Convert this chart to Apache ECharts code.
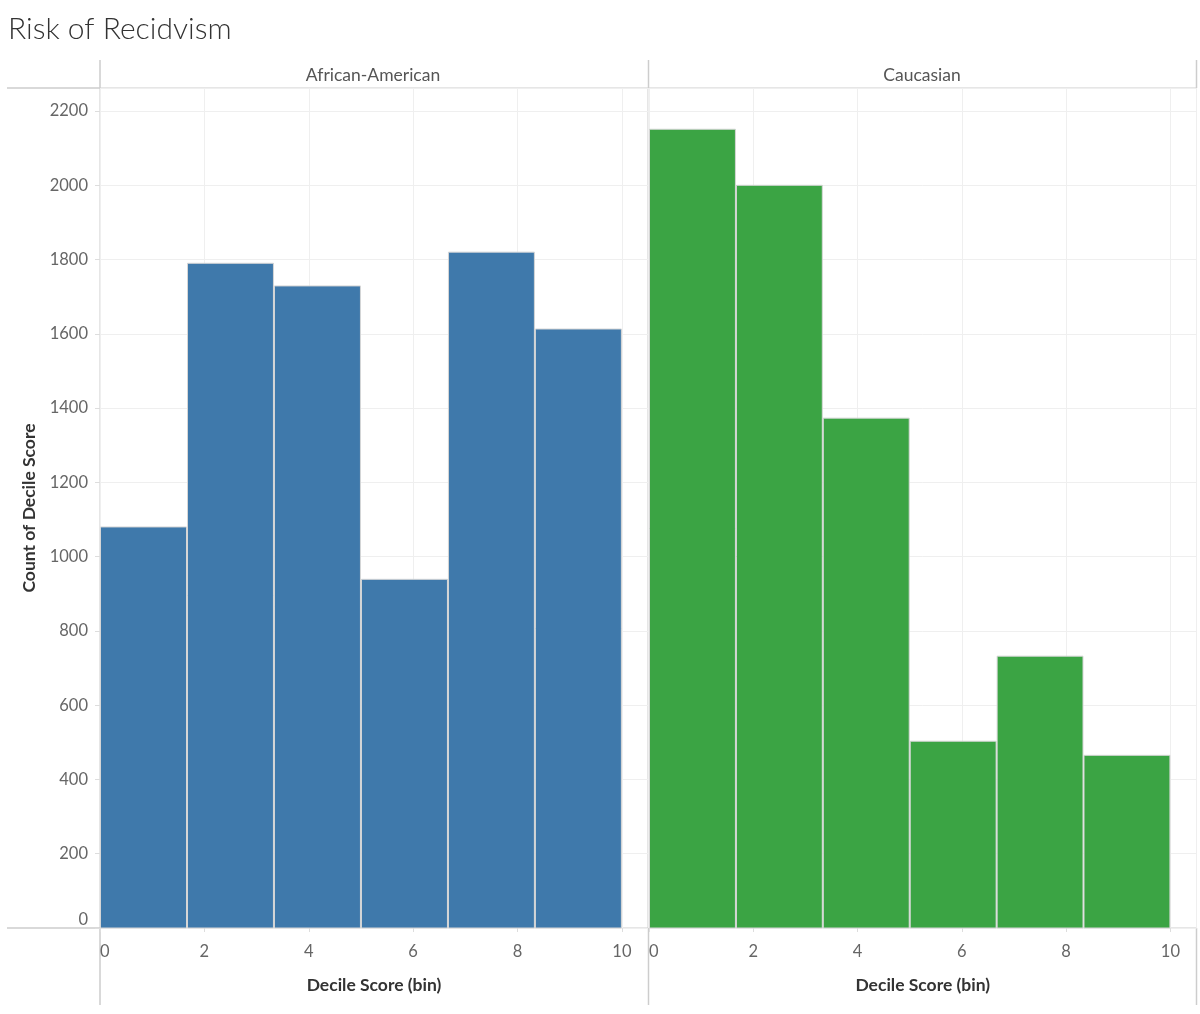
<!DOCTYPE html>
<html>
<head>
<meta charset="utf-8">
<script src="https://cdn.jsdelivr.net/npm/echarts@6/dist/echarts.min.js"></script>
<style>
html,body{margin:0;padding:0;background:#fff;}
#chart{width:1200px;height:1014px;}
</style>
</head>
<body>
<div id="chart"></div>
<script>
// ---- data ----
var binEdges = [0, 1.667, 3.333, 5, 6.667, 8.333, 10];
var panels = ['African-American', 'Caucasian'];
var africanAmericanCounts = [1080, 1790, 1729, 939, 1820, 1613];
var caucasianCounts = [2151, 2000, 1373, 503, 732, 465];
var yTicks = [0, 200, 400, 600, 800, 1000, 1200, 1400, 1600, 1800, 2000, 2200];
var xTicks = [0, 2, 4, 6, 8, 10];

var FONT = 'Lato, "Open Sans", sans-serif';
var LINE = '#cdcdcd';
var GRIDLINE = '#efefef';

function binData(counts) {
  return counts.map(function (c, i) { return [binEdges[i], binEdges[i + 1], c]; });
}

function makeRender(color, edge) {
  return function (params, api) {
    var p0 = api.coord([api.value(0), api.value(2)]);
    var p1 = api.coord([api.value(1), 0]);
    return {
      type: 'rect',
      shape: { x: p0[0] + 0.5, y: p0[1], width: p1[0] - p0[0] - 1, height: p1[1] - p0[1] },
      style: { fill: color, stroke: edge, lineWidth: 1 }
    };
  };
}

function xAxisCfg(idx) {
  return {
    type: 'value', gridIndex: idx, min: 0, max: 10.5, interval: 2,
    name: 'Decile Score (bin)', nameLocation: 'middle', nameGap: 48,
    nameTextStyle: { fontFamily: FONT, fontSize: 17.5, fontWeight: 'bold', color: '#333', verticalAlign: 'top' },
    axisLine: { show: false },
    axisTick: { show: true, length: 4, lineStyle: { color: '#dddddd' } },
    axisLabel: {
      fontFamily: FONT, fontSize: 16.5, color: '#666', margin: 15,
      showMaxLabel: false, alignMinLabel: 'left',
      formatter: function (v) { return xTicks.indexOf(v) >= 0 ? String(v) : ''; }
    },
    splitLine: { show: true, lineStyle: { color: GRIDLINE, width: 1 } }
  };
}

function yAxisCfg(idx, showLabels) {
  return {
    type: 'value', gridIndex: idx, min: 0, max: 2262, interval: 200,
    name: showLabels ? 'Count of Decile Score' : '',
    nameLocation: 'middle', nameGap: 62,
    nameTextStyle: { fontFamily: FONT, fontSize: 17.5, fontWeight: 'bold', color: '#333' },
    axisLine: { show: false },
    axisTick: { show: showLabels, length: 5, lineStyle: { color: '#dddddd' } },
    axisLabel: {
      show: showLabels, fontFamily: FONT, fontSize: 16.5, color: '#666', margin: 12,
      showMaxLabel: false, verticalAlignMinLabel: 'bottom',
      formatter: function (v) { return yTicks.indexOf(v) >= 0 ? String(v) : ''; }
    },
    splitLine: { show: true, lineStyle: { color: GRIDLINE, width: 1 } }
  };
}

function vline(x, y1, y2) {
  return { type: 'line', silent: true, shape: { x1: x, y1: y1, x2: x, y2: y2 }, style: { stroke: LINE, lineWidth: 1.5 } };
}
function hline(y, x1, x2) {
  return { type: 'line', silent: true, shape: { x1: x1, y1: y, x2: x2, y2: y }, style: { stroke: LINE, lineWidth: 1.5 } };
}

var chart = echarts.init(document.getElementById('chart'), null, { renderer: 'canvas' });
chart.setOption({
  backgroundColor: '#ffffff',
  animation: false,
  title: [
    { text: 'Risk of Recidvism', left: 3, top: 9,
      textStyle: { fontFamily: FONT, fontSize: 30, fontWeight: 300, color: '#333' } },
    { text: panels[0], left: 368, top: 61, textAlign: 'center',
      textStyle: { fontFamily: FONT, fontSize: 17.5, fontWeight: 'normal', color: '#555' } },
    { text: panels[1], left: 917, top: 61, textAlign: 'center',
      textStyle: { fontFamily: FONT, fontSize: 17.5, fontWeight: 'normal', color: '#555' } }
  ],
  grid: [
    { left: 100, top: 88, width: 548, height: 840, show: true, borderColor: LINE, borderWidth: 1 },
    { left: 649, top: 88, width: 547.5, height: 840, show: true, borderColor: LINE, borderWidth: 1 }
  ],
  xAxis: [xAxisCfg(0), xAxisCfg(1)],
  yAxis: [yAxisCfg(0, true), yAxisCfg(1, false)],
  series: [
    { type: 'custom', name: panels[0], xAxisIndex: 0, yAxisIndex: 0,
      renderItem: makeRender('#3f79ab', '#d6d6d6'), encode: { x: [0, 1], y: 2 },
      data: binData(africanAmericanCounts) },
    { type: 'custom', name: panels[1], xAxisIndex: 1, yAxisIndex: 1,
      renderItem: makeRender('#3ba444', '#d6d6d6'), encode: { x: [0, 1], y: 2 },
      data: binData(caucasianCounts) }
  ],
  graphic: [
    hline(88, 7, 100), hline(928, 7, 100),
    vline(100, 60, 88), vline(100, 928, 1005),
    vline(648.5, 60, 88), vline(648.5, 928, 1005),
    vline(1196.5, 60, 88), vline(1196.5, 928, 1005)
  ]
});
</script>
</body>
</html>
